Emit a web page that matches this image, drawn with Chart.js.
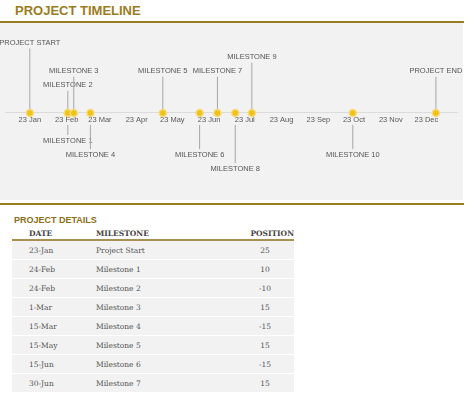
<!DOCTYPE html>
<html>
<head>
<meta charset="utf-8">
<script src="https://cdn.jsdelivr.net/npm/chart.js@4"></script>
<style>
  body { margin: 0; width: 474px; height: 411px; background: #fff; font-family: "Liberation Sans", Arial, sans-serif; position: relative; overflow: hidden; }
  #title { position: absolute; left: 15px; top: 3px; font: bold 13px "Liberation Sans", Arial, sans-serif; color: #9a7d22; }
  #topline { position: absolute; left: 0; top: 21px; width: 464px; height: 2px; background: #9a7d22; }
  #panel { position: absolute; left: 0; top: 23px; width: 463px; height: 177px; background: #f2f2f2; }
  #botline { position: absolute; left: 0; top: 203px; width: 464px; height: 2px; background: #9a7d22; }
  #details { position: absolute; left: 14px; top: 215px; font: bold 9px "Liberation Sans", Arial, sans-serif; color: #8a6d14; }
  table { position: absolute; left: 12px; top: 227px; width: 282px; border-collapse: collapse; table-layout: fixed; font: 7.5px "DejaVu Serif", serif; color: #555; }
  th { font-weight: bold; color: #444; height: 12px; padding: 0; text-align: left; border-bottom: 2px solid #a89050; }
  td { background: #f2f2f2; height: 18px; padding: 0; border-bottom: 1px solid #fff; }
  .c1 { padding-left: 17px; } .c3 { text-align: center; }
</style>
</head>
<body>
<div id="title">PROJECT TIMELINE</div>
<div id="topline"></div>
<div id="panel"><canvas id="c" width="463" height="177"></canvas></div>
<div id="botline"></div>
<div id="details">PROJECT DETAILS</div>
<table id="t"><colgroup><col style="width:84px"><col style="width:140px"><col style="width:58px"></colgroup>
<thead><tr><th class="c1">DATE</th><th>MILESTONE</th><th style="text-align:right">POSITION</th></tr></thead><tbody></tbody></table>
<script>
// timeline (day of year, height)
const names = ["PROJECT START","MILESTONE 1","MILESTONE 2","MILESTONE 3","MILESTONE 4","MILESTONE 5","MILESTONE 6","MILESTONE 7","MILESTONE 8","MILESTONE 9","MILESTONE 10","PROJECT END"];
const days = [22, 54, 54, 59, 73, 134, 165, 180, 195, 209, 294, 364];
const heights = [25, -10, 10, 15, -15, 15, -15, 15, -20, 20, -15, 15];
const tickDays = [22, 53, 81, 112, 142, 173, 203, 234, 265, 295, 326, 356];
const tickLabels = ["23 Jan","23 Feb","23 Mar","23 Apr","23 May","23 Jun","23 Jul","23 Aug","23 Sep","23 Oct","23 Nov","23 Dec"];
// details table
const tableDates = ["23-Jan","24-Feb","24-Feb","1-Mar","15-Mar","15-May","15-Jun","30-Jun"];
const tableNames = ["Project Start","Milestone 1","Milestone 2","Milestone 3","Milestone 4","Milestone 5","Milestone 6","Milestone 7"];
const tablePos = [25, 10, -10, 15, -15, 15, -15, 15];

const tb = document.querySelector('#t tbody');
tableDates.forEach((d, i) => {
  const tr = document.createElement('tr');
  tr.innerHTML = '<td class="c1">' + d + '</td><td>' + tableNames[i] + '</td><td class="c3">' + tablePos[i] + '</td>';
  tb.appendChild(tr);
});

const stems = {
  id: 'stems',
  afterDatasetsDraw(chart) {
    const {ctx, scales: {x, y}} = chart;
    ctx.save();
    ctx.font = '7.5px "Liberation Sans", Arial, sans-serif';
    ctx.fillStyle = '#555';
    ctx.textAlign = 'center';
    ctx.textBaseline = 'middle';
    days.forEach((d, i) => {
      const px = x.getPixelForValue(d);
      const tip = y.getPixelForValue(heights[i]);
      const base = y.getPixelForValue(0);
      const end = heights[i] > 0 ? tip + 6 : tip - 6;
      ctx.strokeStyle = '#a6a6a6';
      ctx.lineWidth = 1;
      ctx.beginPath();
      ctx.moveTo(px, heights[i] > 0 ? base - 4 : base + 12);
      ctx.lineTo(px, end);
      ctx.stroke();
      ctx.fillText(names[i], px, tip);
    });
    ctx.restore();
  }
};

new Chart(document.getElementById('c'), {
  type: 'scatter',
  data: {
    datasets: [{
      data: days.map(d => ({x: d, y: 0})),
      pointRadius: 3.5,
      pointBackgroundColor: '#efc21a',
      pointBorderColor: '#f7da78',
      pointBorderWidth: 1.5
    }]
  },
  options: {
    responsive: false,
    animation: false,
    layout: {padding: 0},
    plugins: {legend: {display: false}, tooltip: {enabled: false}},
    scales: {
      x: {
        type: 'linear', min: 1.5, max: 382.2,
        position: {y: 0},
        afterBuildTicks: s => { s.ticks = tickDays.map(v => ({value: v})); },
        ticks: {
          callback: (v) => tickLabels[tickDays.indexOf(v)],
          font: {size: 7.5, family: '"Liberation Sans", Arial, sans-serif'},
          color: '#595959', padding: 3, maxRotation: 0, autoSkip: false
        },
        grid: {display: false, drawTicks: false},
        border: {color: '#dcdcdc', dash: [2, 2]}
      },
      y: {min: -29, max: 30, display: false}
    }
  },
  plugins: [stems]
});
</script>
</body>
</html>
